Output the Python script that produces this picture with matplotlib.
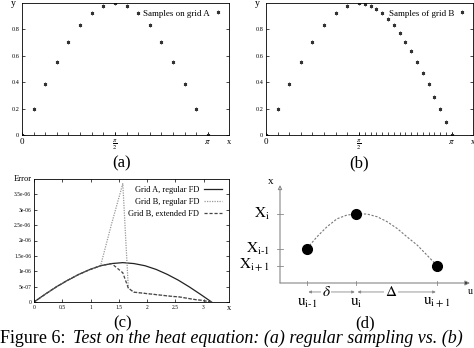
import numpy as np
import matplotlib.pyplot as plt

plt.rcParams["font.family"] = ["Liberation Serif", "DejaVu Serif"]
plt.rcParams["mathtext.fontset"] = "stix"

W, H = 474, 348

# ------------------------------------------------
# data
# ------------------------------------------------

grid_a_x = [0, 0.196, 0.393, 0.589, 0.785, 0.982, 1.178, 1.374, 1.571,
            1.767, 1.963, 2.160, 2.356, 2.553, 2.749, 2.945, 3.142]
grid_a_y = [0, 0.195, 0.383, 0.556, 0.707, 0.831, 0.924, 0.981, 1.0,
            0.981, 0.924, 0.831, 0.707, 0.556, 0.383, 0.195, 0]

grid_b_x = [0, 0.196, 0.393, 0.589, 0.785, 0.982, 1.178, 1.374, 1.571,
            1.669, 1.767, 1.865, 1.963, 2.062, 2.160, 2.258, 2.356,
            2.454, 2.553, 2.651, 2.749, 2.847, 2.945, 3.043, 3.142]
grid_b_y = [0, 0.195, 0.383, 0.556, 0.707, 0.831, 0.924, 0.981, 1.0,
            0.995, 0.981, 0.957, 0.924, 0.882, 0.831, 0.773, 0.707,
            0.634, 0.556, 0.471, 0.383, 0.290, 0.195, 0.098, 0]

# error curves (units of 1e-6)
err_a = [0, 0.25, 0.49, 0.70, 0.89, 1.05, 1.18, 1.25, 1.28,
         1.25, 1.18, 1.06, 0.90, 0.71, 0.49, 0.25, 0]
err_b_regular = [0, 0.25, 0.49, 0.70, 0.89, 1.05, 1.18, 2.55, 3.85,
                 0.45, 0.32, 0.30, 0.28, 0.26, 0.24, 0.22, 0.20,
                 0.18, 0.17, 0.14, 0.11, 0.08, 0.06, 0.03, 0]
err_b_extended = [0, 0.25, 0.49, 0.70, 0.89, 1.05, 1.18, 1.25, 0.95,
                  0.45, 0.32, 0.30, 0.28, 0.26, 0.24, 0.22, 0.20,
                  0.18, 0.17, 0.14, 0.11, 0.08, 0.06, 0.03, 0]
err_labels = ["Grid A, regular FD", "Grid B, regular FD", "Grid B, extended FD"]
err_yticks = [0, 0.5, 1.0, 1.5, 2.0, 2.5, 3.0, 3.5]
err_yticklabels = ["0", "5e-07", "1e-06", "1.5e-06", "2e-06", "2.5e-06", "3e-06", "3.5e-06"]
err_xticks = [0, 0.5, 1, 1.5, 2, 2.5, 3]

# schematic (d)
node_u = [0.5, 1.41, 2.91]
node_x = [1.0, 2.0, 0.5]
node_u_labels = [r"$\mathrm{u}_{\mathrm{i\text{-}1}}$", r"$\mathrm{u}_{\mathrm{i}}$", r"$\mathrm{u}_{\mathrm{i+1}}$"]
node_x_labels = [r"$\mathrm{X}_{\mathrm{i\text{-}1}}$", r"$\mathrm{X}_{\mathrm{i}}$", r"$\mathrm{X}_{\mathrm{i+1}}$"]
curve_u = [0.50, 0.685, 0.87, 1.055, 1.24, 1.41, 1.61, 1.80, 1.98, 2.17, 2.35, 2.54, 2.72, 2.91]
curve_x = [1.0, 1.34, 1.63, 1.86, 1.97, 2.0, 2.0, 1.92, 1.78, 1.58, 1.34, 1.10, 0.81, 0.50]


def rect(l, t, r, b):
    return [l / W, 1 - b / H, (r - l) / W, (b - t) / H]


def gp_style(ax):
    ax.tick_params(direction="in", length=2, width=0.5, labelsize=4.5, pad=2,
                   top=True, right=True)
    ax.tick_params(which="minor", direction="in", length=2, width=0.5, top=False)
    for s in ax.spines.values():
        s.set_linewidth(0.6)


fig = plt.figure(figsize=(W / 100, H / 100), dpi=100)

# ------------------------------------------------
# (a) and (b) samples
# ------------------------------------------------

for l, r, xs, ys, lab in [(22, 229, grid_a_x, grid_a_y, "Samples on grid A"),
                          (266, 473, grid_b_x, grid_b_y, "Samples of grid B")]:
    ax = fig.add_axes(rect(l, 3, r, 135))
    ax.plot(xs, ys, ls="none", marker=(6, 2, 0), ms=2.5, mew=0.6, color="#333333", label=lab)
    ax.set_xlim(0, 3.5)
    ax.set_ylim(0, 1)
    ax.set_xticks([0, np.pi / 2, np.pi])
    ax.set_xticklabels(["0", r"$\frac{\pi}{2}$", r"$\pi$"])
    ax.set_xticks(xs, minor=True)
    ax.set_yticks([0, 0.2, 0.4, 0.6, 0.8])
    ax.set_yticklabels(["0", "0.2", "0.4", "0.6", "0.8"])
    gp_style(ax)
    ax.tick_params(axis="x", top=False, labelsize=6.5)
    ax.text(-0.03, 1.0, "y", transform=ax.transAxes, ha="right", va="center", fontsize=7)
    ax.text(1.0, -0.05, "x", transform=ax.transAxes, ha="center", va="center", fontsize=6)
    ax.legend(loc="upper right", frameon=False, markerfirst=False, fontsize=6.5,
              handlelength=1, handletextpad=0.4, borderaxespad=0.3)

# ------------------------------------------------
# (c) errors
# ------------------------------------------------

ax = fig.add_axes(rect(34, 179, 229, 302))
ax.plot(grid_a_x, err_a, color="#222222", lw=0.9, ls="-", label=err_labels[0])
ax.plot(grid_b_x, err_b_regular, color="#999999", lw=0.9, ls=(0, (1, 1)), label=err_labels[1])
ax.plot(grid_b_x, err_b_extended, color="#444444", lw=0.9, ls=(0, (2.5, 1.5)), label=err_labels[2])
ax.set_xlim(0, 3.45)
ax.set_ylim(0, 4.0)
ax.set_xticks(err_xticks)
ax.set_xticklabels([f"{t:g}" for t in err_xticks])
ax.set_yticks(err_yticks)
ax.set_yticklabels(err_yticklabels)
gp_style(ax)
ax.tick_params(labelsize=4)
ax.text(-0.01, 1.0, "Error", transform=ax.transAxes, ha="right", va="center", fontsize=6)
ax.text(1.0, -0.05, "x", transform=ax.transAxes, ha="center", va="center", fontsize=6)
ax.legend(loc="upper right", frameon=False, markerfirst=False, fontsize=6,
          handlelength=2.2, handletextpad=0.6, labelspacing=0.5, borderaxespad=0.4)

# ------------------------------------------------
# (d) schematic
# ------------------------------------------------

sx, sy = 54.0, 34.5
ox, oy = 280, 283
ax = fig.add_axes(rect(240, 170, 474, 320))
ax.set_xlim((240 - ox) / sx, (474 - ox) / sx)
ax.set_ylim((oy - 320) / sy, (oy - 170) / sy)
ax.axis("off")

gray = "#888888"
ax.annotate("", xy=((470 - ox) / sx, 0), xytext=(0, 0),
            arrowprops=dict(arrowstyle="-|>", color=gray, lw=0.8, fc="black",
                            mutation_scale=7, shrinkA=0, shrinkB=0))
ax.annotate("", xy=(0, (oy - 185) / sy), xytext=(0, 0),
            arrowprops=dict(arrowstyle="-|>", color=gray, lw=0.8, fc="white",
                            mutation_scale=6, shrinkA=0, shrinkB=0))
ax.text(-0.12, (oy - 181) / sy, "x", ha="right", va="center", fontsize=8)
ax.text((473 - ox) / sx, -0.26, "u", ha="right", va="center", fontsize=7)

ax.plot(curve_u, curve_x, color="#777777", lw=0.8, ls=(0, (2, 1.5)))
ax.plot(node_u, node_x, ls="none", marker="o", ms=7, color="black")

for u, lab in zip(node_u, node_u_labels):
    ax.plot([u, u], [-0.06, 0.06], color=gray, lw=0.6)
    ax.text(u, -0.58, lab, ha="center", va="center", fontsize=11)
for xv, lab in zip(node_x, node_x_labels):
    ax.plot([-0.06, 0.06], [xv, xv], color=gray, lw=0.6)
    ax.text(-0.19, xv, lab, ha="right", va="center", fontsize=11)

yd = -0.26
for a, b, lab in [(node_u[0], node_u[1], r"$\delta$"), (node_u[1], node_u[2], r"$\Delta$")]:
    ax.annotate("", xy=(b, yd), xytext=(a, yd),
                arrowprops=dict(arrowstyle="<|-|>", color=gray, lw=0.6, fc=gray,
                                mutation_scale=4, shrinkA=1, shrinkB=1))
    ax.text((a + b) / 2 - 0.1, yd, lab, ha="center", va="center", fontsize=11,
            bbox=dict(fc="white", ec="none", pad=0.5))

# ------------------------------------------------
# sub-labels and caption
# ------------------------------------------------

for x, y, t in [(122, 163, "(a)"), (359, 163, "(b)"), (123, 323, "(c)"), (365, 323, "(d)")]:
    fig.text(x / W, 1 - y / H, t, ha="center", va="center", fontsize=12)

fig.text(0, 1 - 343 / H, "Figure 6:", ha="left", va="baseline", fontsize=13)
fig.text(73 / W, 1 - 343 / H, "Test on the heat equation: (a) regular sampling vs. (b)",
         ha="left", va="baseline", fontsize=13, style="italic")

fig.savefig("out.png", dpi=100)
